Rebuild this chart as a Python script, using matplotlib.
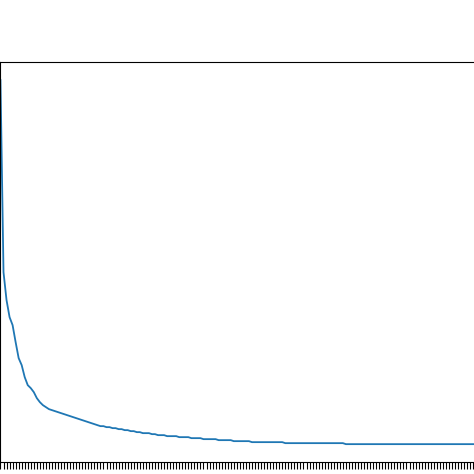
import matplotlib
matplotlib.use("Agg")
import matplotlib.pyplot as plt

values = [382, 190, 162, 145, 137, 120, 104, 97, 85, 77, 74, 70, 64, 60, 57, 55, 53, 52, 51, 50, 49,
          48, 47, 46, 45, 44, 43, 42, 41, 40, 39,
          38, 37, 36, 36, 35, 35, 34, 34, 33, 33,
          32, 32, 31, 31, 30, 30, 29, 29, 29, 28,
          28, 27, 27, 27, 26, 26, 26, 26, 25, 25,
          25, 25, 24, 24, 24, 24, 23, 23, 23, 23,
          23, 22, 22, 22, 22, 22, 21, 21, 21, 21,
          21, 21, 20, 20, 20, 20, 20, 20, 20, 20,
          20, 20, 20, 19, 19, 19, 19, 19, 19, 19,
          19, 19, 19, 19, 19, 19, 19, 19, 19, 19,
          19, 19, 19, 18, 18, 18, 18, 18, 18, 18,
          18, 18, 18, 18, 18, 18, 18, 18, 18, 18,
          18, 18, 18, 18, 18, 18, 18, 18, 18, 18,
          18, 18, 18, 18, 18, 18, 18, 18, 18, 18,
          18, 18, 18, 18, 18, 18, 18, 18]
positions = list(range(len(values)))

fig = plt.figure(figsize=(4.74, 4.74), dpi=100)
ax = fig.add_axes([0.001, 0.025, 1.01, 0.844])
ax.plot(positions, values, color="#1f77b4", linewidth=1.3)
ax.set_xlim(0, len(values) - 1)
ax.set_ylim(0, 400)
ax.set_xticks(positions)
ax.set_xticklabels([""] * len(values))
ax.tick_params(axis="x", length=5, width=0.8)
ax.set_yticks([])
fig.savefig("out.png", dpi=100)
